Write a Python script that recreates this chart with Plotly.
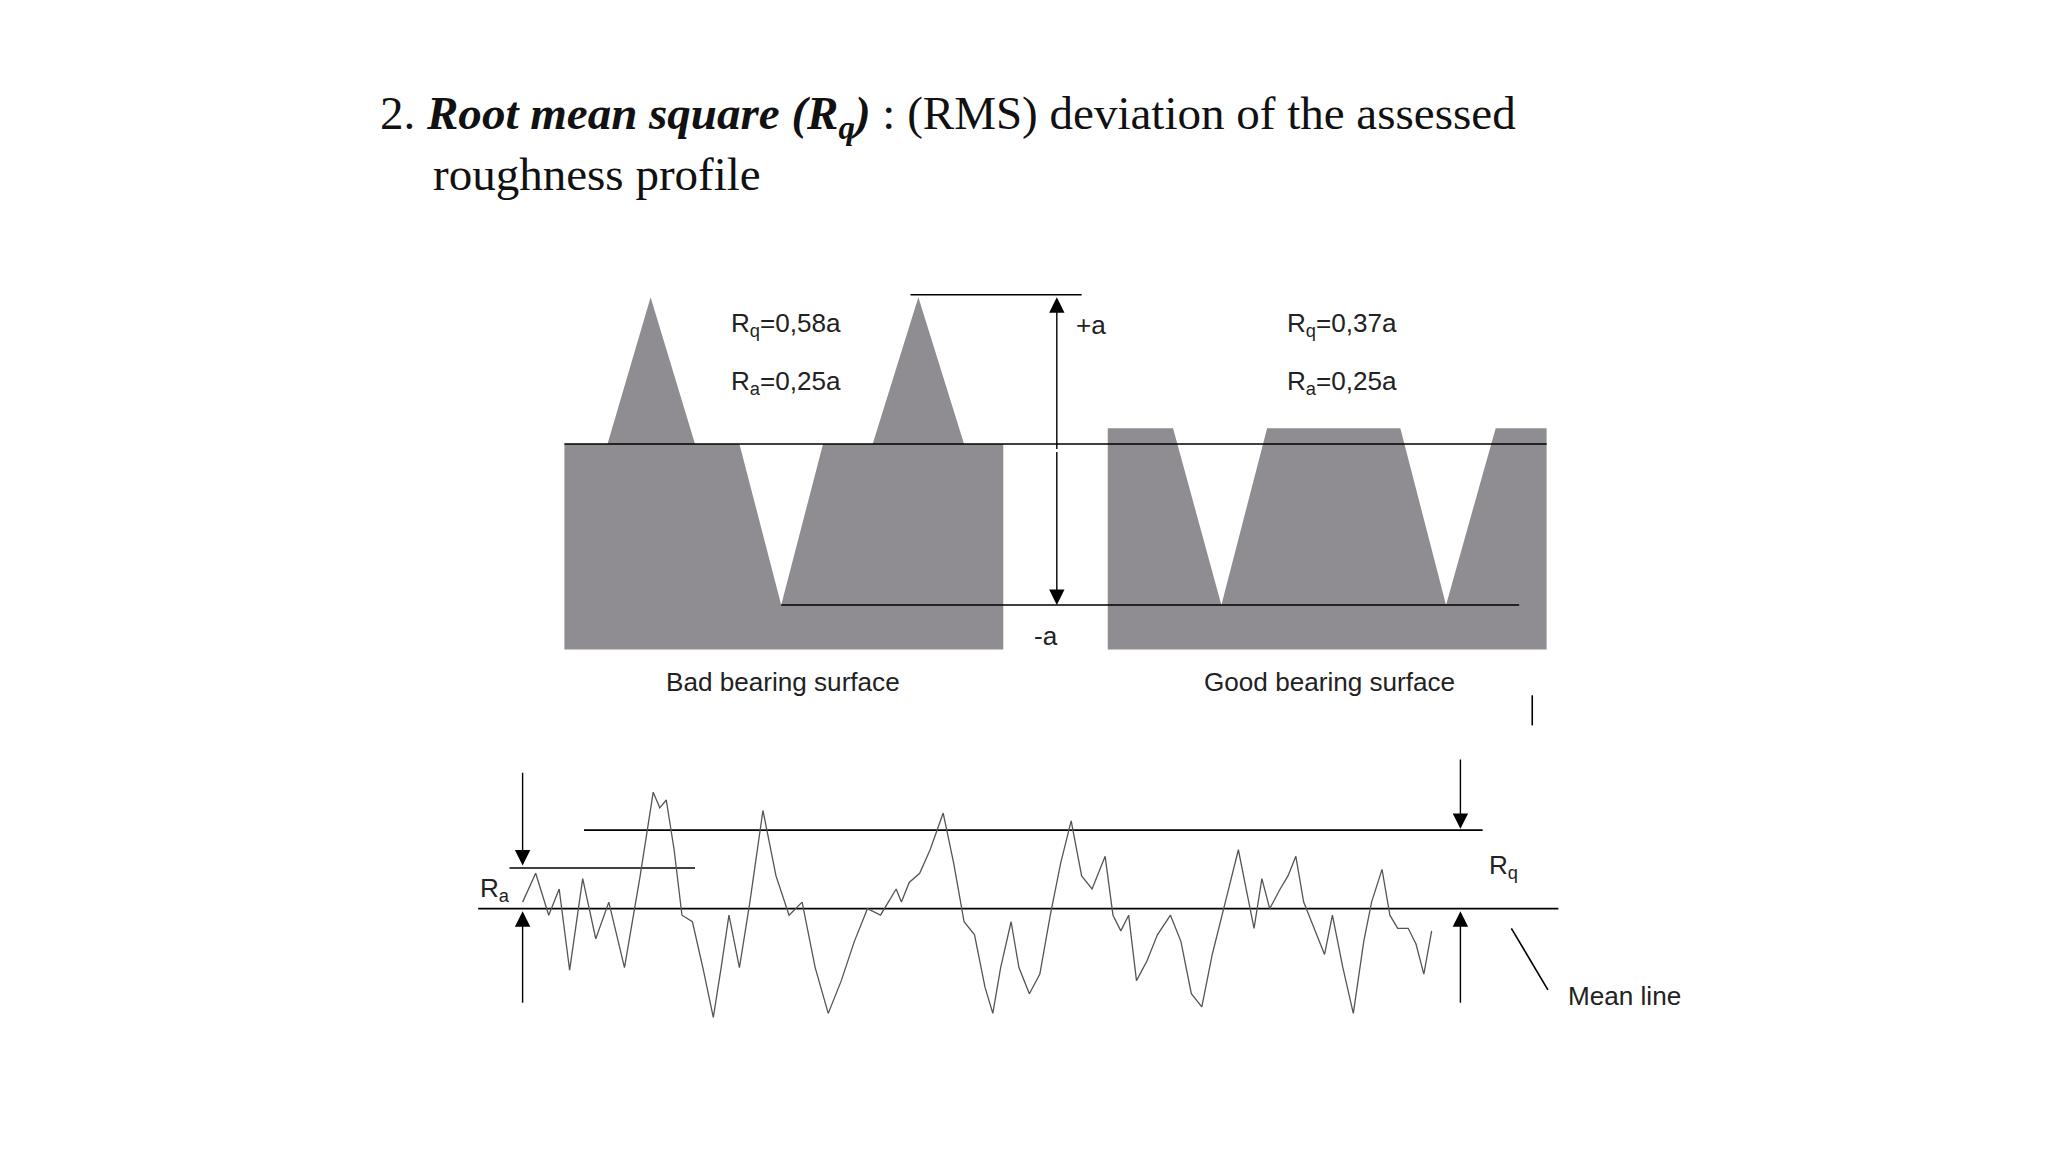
import plotly.graph_objects as go

S = 2048/1568
GREY = "#8f8d91"

profile_x = [400,410,420,428,436,446,456,466,478,490,500,505,510,516,522,530,538,546,552,558,566,574,584,594,604,614,624,634,644,654,664,674,680,686,690,696,704,712,722,730,738,746,754,760,766,774,780,788,796,804,812,820,828,836,846,852,858,864,870,878,886,896,904,912,920,928,938,948,954,960,966,972,980,986,992,998,1006,1014,1020,1028,1036,1044,1050,1058,1064,1070,1078,1084,1090,1096]
profile_y = [690,668,700,680,742,672,718,690,740,670,606,618,612,650,700,705,740,778,740,700,740,690,620,670,700,690,740,775,750,720,695,700,690,680,690,675,668,650,622,660,705,715,755,775,740,705,740,760,745,700,660,628,670,680,655,700,712,700,750,735,715,700,720,760,770,730,690,650,680,710,672,695,680,670,655,690,710,730,700,740,775,720,690,665,700,710,710,722,745,712]

bad_x = [432,432,465,498,532,566,598,630,668,703,738,768,768]
bad_y = [497,340,340,228,340,340,463,340,340,228,340,340,497]
good_x = [848,848,898,935,970,1072,1107,1145,1184,1184]
good_y = [497,328,328,463,328,328,463,328,328,497]

fig = go.Figure()
for xs, ys in [(bad_x, bad_y), (good_x, good_y)]:
    fig.add_trace(go.Scatter(x=xs, y=ys, fill="toself", fillcolor=GREY, line=dict(width=0), mode="lines", hoverinfo="skip"))

lines = [([432,1184],[340,340]),([598,1163],[463,463]),([697,828],[226,226]),
         ([366,1193],[695,695]),([447,1135],[635,635]),([390,532],[664,664]),
         ([1157,1185],[710,757]),([1173,1173],[532,555])]
for xs, ys in lines:
    fig.add_trace(go.Scatter(x=xs, y=ys, mode="lines", line=dict(color="black", width=1.6), hoverinfo="skip"))
fig.add_trace(go.Scatter(x=profile_x, y=profile_y, mode="lines", line=dict(color="#555", width=1.3), hoverinfo="skip"))

arrows = [(809,345,809,228),(809,345,809,463),(400,590,400,662),(400,768,400,697),(1118,580,1118,634),(1118,768,1118,697)]
for ax_, ay_, x, y in arrows:
    fig.add_annotation(x=x, y=y, ax=ax_, ay=ay_, xref="x", yref="y", axref="x", ayref="y", text="",
                       showarrow=True, arrowhead=2, arrowsize=2.2, arrowwidth=1.4, arrowcolor="black")

sans = "Liberation Sans, Arial"
fs = 20*S
texts = [(558,249,"R<sub>q</sub>=0,58a","left"),(558,293,"R<sub>a</sub>=0,25a","left"),
         (984,249,"R<sub>q</sub>=0,37a","left"),(984,293,"R<sub>a</sub>=0,25a","left"),
         (822,249,"+a","left"),(790,487,"-a","left"),
         (599,522,"Bad bearing surface","center"),(1018,522,"Good bearing surface","center"),
         (366,680,"R<sub>a</sub>","left"),(1138,663,"R<sub>q</sub>","left"),
         (1199,762,"Mean line","left")]
for x, y, t, al in texts:
    fig.add_annotation(x=x, y=y, text=t, showarrow=False, xanchor=al, yanchor="middle",
                       font=dict(family=sans, size=fs, color="#222"))

serif = "Liberation Serif, Times New Roman"
fig.add_annotation(x=289, y=90, xanchor="left", yanchor="middle", showarrow=False,
                   text="2. <b><i>Root mean square (R<sub>q</sub>)</i></b> : (RMS) deviation of the assessed",
                   font=dict(family=serif, size=36*S, color="#111"))
fig.add_annotation(x=330, y=134, xanchor="left", yanchor="middle", showarrow=False,
                   text="roughness profile", font=dict(family=serif, size=36*S, color="#111"))

fig.update_layout(width=2048, height=1152, margin=dict(l=0, r=0, t=0, b=0), showlegend=False,
                  plot_bgcolor="white", paper_bgcolor="white",
                  xaxis=dict(range=[6,1574], visible=False, fixedrange=True),
                  yaxis=dict(range=[887,7], visible=False, fixedrange=True))
fig.write_html("out.html")
